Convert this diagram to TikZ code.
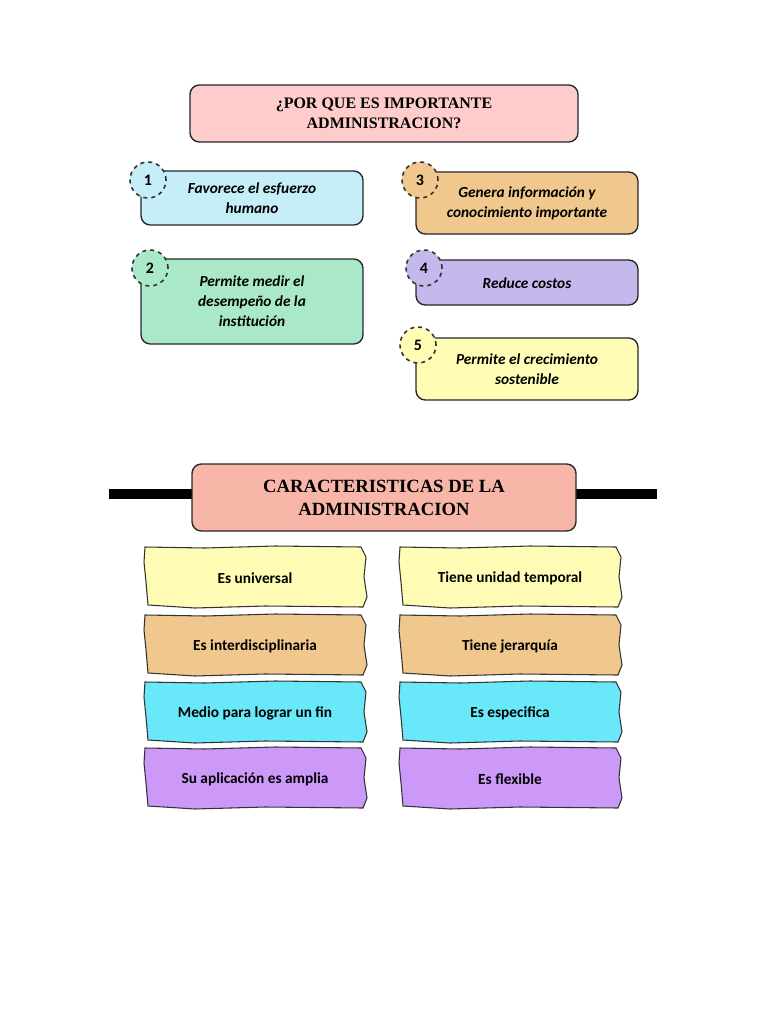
\documentclass[tikz,border=0pt]{standalone}
\usepackage{fontspec}
\setmainfont{Carlito}
\newfontfamily\titlefont{Liberation Serif}
\begin{document}
\begin{tikzpicture}[x=0.75pt,y=-0.75pt,
  rbox/.style={draw=black!85,line width=1pt,rounded corners=7pt},
  num/.style={circle,draw=black!80,dashed,line width=1.2pt,minimum size=27pt,inner sep=0pt,font=\bfseries\large},
  itx/.style={font=\bfseries\itshape\fontsize{11.5}{15}\selectfont,align=center},
  ttx/.style={font=\titlefont\bfseries\fontsize{12}{15}\selectfont,align=center},
  ptx/.style={font=\bfseries\fontsize{11.5}{14}\selectfont},
  paper/.style={draw=black!80,line width=0.8pt}]
\useasboundingbox (0,0) rectangle (768,1024);
\definecolor{cpink}{HTML}{FFCCCC}\definecolor{cblue}{HTML}{C5EEF9}
\definecolor{cgreen}{HTML}{A9E9C9}\definecolor{ctan}{HTML}{F0C88E}
\definecolor{clav}{HTML}{C5B8EC}\definecolor{cyel}{HTML}{FFFCB5}
\definecolor{csal}{HTML}{F7B6A8}\definecolor{ccyan}{HTML}{68E8F8}
\definecolor{cpur}{HTML}{CC99F8}
% title 1
\draw[rbox,fill=cpink] (190,85) rectangle (578,142);
\node[ttx] (t1) at (384,113) {¿POR QUE ES IMPORTANTE\\ADMINISTRACION?};
% boxes
\draw[rbox,fill=cblue] (141,171) rectangle (363,225);
\node[itx] (b1) at (252,198) {Favorece el esfuerzo\\humano};
\node[num,fill=cblue] (n1) at (148,180) {1};
\draw[rbox,fill=cgreen] (141,259) rectangle (363,344);
\node[itx] (b2) at (252,301) {Permite medir el\\desempeño de la\\institución};
\node[num,fill=cgreen] (n2) at (150,268) {2};
\draw[rbox,fill=ctan] (416,172) rectangle (638,234);
\node[itx] (b3) at (527,203) {Genera información y\\conocimiento importante};
\node[num,fill=ctan] (n3) at (420,180) {3};
\draw[rbox,fill=clav] (416,260) rectangle (638,305);
\node[itx] (b4) at (527,283) {Reduce costos};
\node[num,fill=clav] (n4) at (424,268) {4};
\draw[rbox,fill=cyel] (416,338) rectangle (638,400);
\node[itx] (b5) at (527,369) {Permite el crecimiento\\sostenible};
\node[num,fill=cyel] (n5) at (418,345) {5};
% bar + title 2
\fill (109,489) rectangle (657,499);
\draw[rbox,fill=csal] (192,464) rectangle (576,531);
\node[ttx,font=\titlefont\bfseries\fontsize{14}{17}\selectfont] (t2) at (384,498) {CARACTERISTICAS DE LA\\ADMINISTRACION};
% paper boxes
\foreach \x/\r/\c/\txt/\nm in {
 145/547/cyel/Es universal/p1, 400/547/cyel/Tiene unidad temporal/p2,
 145/615/ctan/Es interdisciplinaria/p3, 400/615/ctan/Tiene jerarquía/p4,
 145/682/ccyan/Medio para lograr un fin/p5, 400/682/ccyan/Es especifica/p6,
 145/748/cpur/Su aplicación es amplia/p7, 400/748/cpur/Es flexible/p8}{
 \draw[paper,fill=\c] (\x,\r) -- (\x+60,\r+1) -- (\x+130,\r-1) -- (\x+216,\r) -- (\x+221,\r+10) -- (\x+219,\r+30) -- (\x+222,\r+50) -- (\x+218,\r+60) -- (\x+120,\r+59) -- (\x+50,\r+61) -- (\x+3,\r+58) -- (\x+1,\r+35) -- (\x-1,\r+15) -- cycle;
 \node[ptx] (\nm) at (\x+110,\r+31) {\txt};
}
\end{tikzpicture}
\end{document}
